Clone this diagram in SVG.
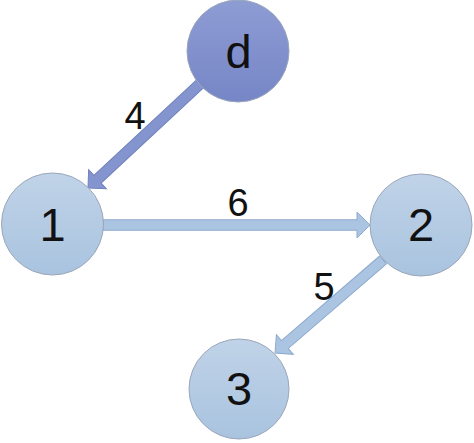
<svg xmlns="http://www.w3.org/2000/svg" width="474" height="443" viewBox="0 0 474 443">
  <defs>
    <linearGradient id="gDark" x1="0" y1="0" x2="0" y2="1">
      <stop offset="0" stop-color="#8e9cd4"/>
      <stop offset="1" stop-color="#7686c6"/>
    </linearGradient>
    <linearGradient id="gLight" x1="0" y1="0" x2="0" y2="1">
      <stop offset="0" stop-color="#c0d3e8"/>
      <stop offset="1" stop-color="#a9c3df"/>
    </linearGradient>
  </defs>
  <style>
    .node { stroke: #9aa6ba; stroke-width: 1; }
    .dark { fill: url(#gDark); }
    .light { fill: url(#gLight); }
    .nlabel { font-family: "Liberation Sans", Arial, sans-serif; font-size: 47px; fill: #111111; text-anchor: middle; }
    .elabel { font-family: "Liberation Sans", Arial, sans-serif; font-size: 38px; fill: #111111; text-anchor: middle; }
    .arrowDark { fill: #8494ce; stroke: #6f80bc; stroke-width: 1; }
    .arrowLight { fill: #aac4e1; stroke: #8eaacd; stroke-width: 1; }
  </style>

  <g id="connectors">
    <polygon class="arrowDark" transform="translate(202,82) rotate(137.08)" points="0,-5.25 142.7,-5.25 142.7,-13 155.7,0 142.7,13 142.7,5.25 0,5.25"/>
    <polygon class="arrowLight" transform="translate(103,225)" points="0,-5.25 254,-5.25 254,-13 267,0 254,13 254,5.25 0,5.25"/>
    <polygon class="arrowLight" transform="translate(383,260) rotate(139.27)" points="0,-5.25 129.5,-5.25 129.5,-13 142.5,0 129.5,13 129.5,5.25 0,5.25"/>
    <text class="elabel" x="135" y="129">4</text>
    <text class="elabel" x="238" y="216">6</text>
    <text class="elabel" x="324" y="300">5</text>
  </g>

  <g id="node-d">
    <circle class="node dark" cx="238" cy="51" r="51"/>
    <text class="nlabel" x="238.5" y="68">d</text>
  </g>
  <g id="node-1">
    <circle class="node light" cx="52.5" cy="224" r="51"/>
    <text class="nlabel" x="52.5" y="241">1</text>
  </g>
  <g id="node-2">
    <circle class="node light" cx="421" cy="225" r="51"/>
    <text class="nlabel" x="421" y="241">2</text>
  </g>
  <g id="node-3">
    <circle class="node light" cx="239" cy="389" r="50"/>
    <text class="nlabel" x="239" y="405">3</text>
  </g>
</svg>
